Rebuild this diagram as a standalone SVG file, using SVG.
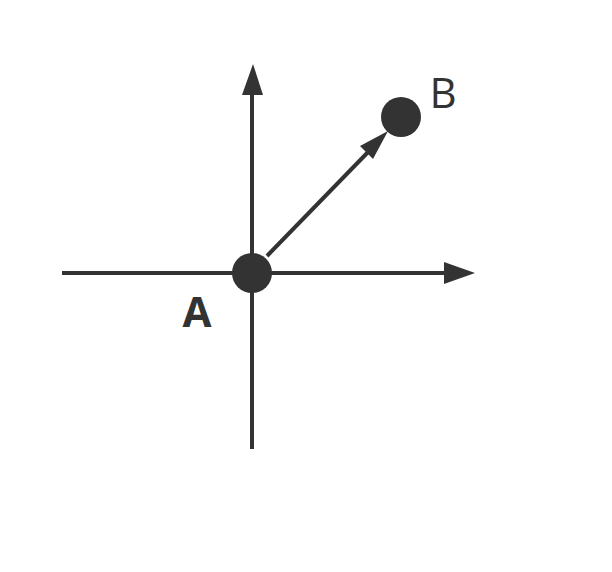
<svg xmlns="http://www.w3.org/2000/svg" width="612" height="572" viewBox="0 0 612 572">
<style>
.ln{stroke:#333333;stroke-width:4;fill:none}
.hd{fill:#333333}
.lbl{fill:#333333;font-family:"Open Sans","Noto Sans",sans-serif}
</style>
<rect width="612" height="572" fill="#ffffff"/>
<g id="connectors">
<line class="ln" x1="62" y1="273" x2="447" y2="273"/>
<polygon class="hd" points="475,273 444,262 444,284"/>
<line class="ln" x1="252" y1="449" x2="252" y2="93"/>
<polygon class="hd" points="253,64 242,95 263,95"/>
<line class="ln" x1="267" y1="256" x2="372" y2="148"/>
<polygon class="hd" points="388,131 360,146 373,159"/>
</g>
<g id="nodeA">
<circle cx="252" cy="273" r="20" fill="#333333"/>
<text class="lbl" x="197" y="327" font-size="42" font-weight="bold" text-anchor="middle">A</text>
</g>
<g id="nodeB">
<circle cx="401" cy="117" r="20" fill="#333333"/>
<text class="lbl" x="443" y="108" font-size="42" text-anchor="middle">B</text>
</g>
</svg>
